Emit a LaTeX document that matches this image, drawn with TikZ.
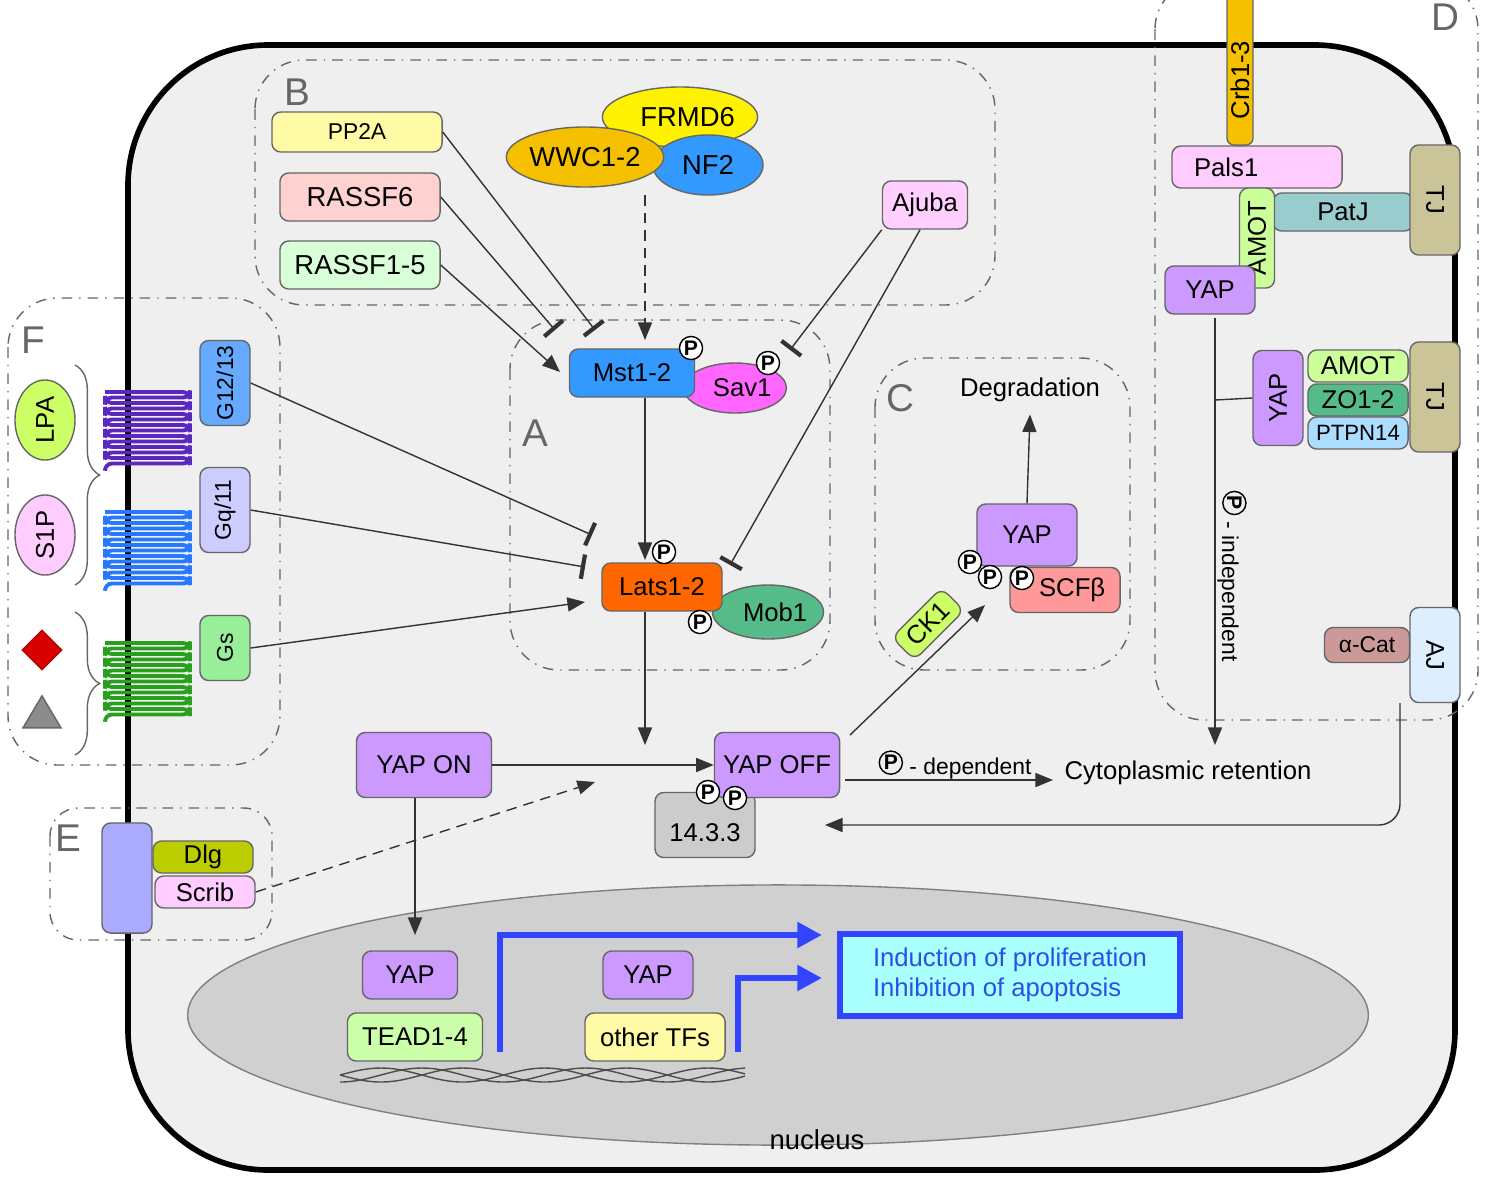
\documentclass[tikz,border=0pt]{standalone}
\usepackage{fontspec}
\setmainfont{Liberation Sans}
\usetikzlibrary{shapes.geometric,arrows.meta,decorations.pathreplacing}
\definecolor{cellg}{HTML}{EFEFEF}
\definecolor{nucg}{HTML}{D0D0D0}
\definecolor{yapc}{HTML}{CC99FF}
\definecolor{tan}{HTML}{CCC499}
\definecolor{bluearr}{HTML}{3344FF}
\definecolor{bluetxt}{HTML}{2A50E6}
\definecolor{cyanbox}{HTML}{AAFFFF}
\definecolor{mblue}{HTML}{3399FF}
\definecolor{gold}{HTML}{F5C000}
\definecolor{pinkl}{HTML}{FFD0FF}
\definecolor{magen}{HTML}{FF66FF}
\definecolor{mobg}{HTML}{55BB88}
\definecolor{orng}{HTML}{FF6600}
\definecolor{lime}{HTML}{CCFF66}
\definecolor{teadg}{HTML}{CCFFAA}
\definecolor{palsc}{HTML}{FFCCFF}
\definecolor{patjc}{HTML}{99CCCC}
\definecolor{amotc}{HTML}{CCFF99}
\definecolor{ptpnc}{HTML}{AADDFF}
\definecolor{acatc}{HTML}{CC9999}
\definecolor{ajc}{HTML}{DDEEFF}
\definecolor{g12c}{HTML}{66AAFF}
\definecolor{gqc}{HTML}{CCCCFF}
\definecolor{gsc}{HTML}{99EE99}
\definecolor{memc}{HTML}{AAAAFF}
\definecolor{dlgc}{HTML}{BBCC00}
\definecolor{coilA}{HTML}{5A28BE}
\definecolor{coilB}{HTML}{2878FF}
\definecolor{coilC}{HTML}{28A01E}
\begin{document}
\begin{tikzpicture}[x=0.01cm,y=-0.01cm,
  every node/.style={font=\fontsize{6.5}{8}\selectfont},
  tx/.style={font=\fontsize{7.3}{8.5}\selectfont},
  tb/.style={font=\fontsize{7.8}{9}\selectfont},
  box/.style={draw=black!60, rounded corners=2.5pt, inner sep=0pt, align=center, tx},
  ell/.style={ellipse, draw=black!60, inner sep=0pt, tx},
  pc/.style={circle, draw=black, fill=white, inner sep=0.3pt, font=\fontsize{6}{6}\selectfont\bfseries},
  grp/.style={draw=black!60, dash dot, rounded corners=14pt},
  lbl/.style={font=\fontsize{11}{12}\selectfont, text=black!60},
  ar/.style={-{Triangle[length=5pt,width=4pt]}, black!80},
  inh/.style={-{Bar[width=7pt,line width=1.2pt]}, black!80},
  coil/.style={line width=1.1pt, rounded corners=2pt}]
\useasboundingbox (0,0) rectangle (1494,1184);
% cell
\draw[line width=1.6pt, fill=cellg, rounded corners=1.4cm] (128,45) rectangle (1455,1170);
\node[ellipse, draw=black!50, fill=nucg, minimum width=11.8cm, minimum height=2.6cm] (nuc) at (778,1015) {};
\node[tb] (nucl) at (817,1140) {nucleus};
% groups
\draw[grp] (255,60) rectangle (995,305); \node[lbl] (lB) at (297,92) {B};
\draw[grp] (510,320) rectangle (830,670); \node[lbl] (lA) at (535,433) {A};
\draw[grp] (875,358) rectangle (1130,670); \node[lbl] (lC) at (900,398) {C};
\draw[grp] (1155,-20) rectangle (1478,720); \node[lbl] (lD) at (1445,17) {D};
\draw[grp] (8,298) rectangle (280,765); \node[lbl] (lF) at (33,340) {F};
\draw[grp,rounded corners=8pt] (50,808) rectangle (272,940); \node[lbl] (lE) at (68,838) {E};
% B
\node[box, fill=yellow!35, minimum width=1.7cm, minimum height=0.4cm, font=\fontsize{6.5}{8}\selectfont] (pp2a) at (357,132) {PP2A};
\node[box, fill=red!18, minimum width=1.6cm, minimum height=0.48cm, tb] (r6) at (360,197) {RASSF6};
\node[box, fill=green!15, minimum width=1.6cm, minimum height=0.48cm, tb] (r15) at (360,265) {RASSF1-5};
\node[ell, fill=yellow, minimum width=1.2cm, minimum height=0.6cm, tb] (frmd) at (680,117) {\ \ FRMD6};
\node[ell, fill=mblue, minimum width=1.1cm, minimum height=0.6cm, tb] (nf2) at (708,165) {NF2};
\node[ell, fill=gold, minimum width=1.36cm, minimum height=0.6cm, tb] (wwc) at (585,157) {WWC1-2};
\node[box, fill=pinkl, minimum width=0.85cm, minimum height=0.48cm] (ajuba) at (925,205) {Ajuba};
% A
\node[ell, fill=magen, minimum width=0.8cm, minimum height=0.5cm] (sav) at (735,388) {\ \ Sav1};
\node[box, fill=mblue, minimum width=1.25cm, minimum height=0.48cm] (mst) at (632,373) {Mst1-2};
\node[pc] (p1) at (691,348) {P};
\node[pc] (p2) at (768,363) {P};
\node[ell, fill=mobg, minimum width=1.1cm, minimum height=0.54cm] (mob) at (768,612) {\ \ Mob1};
\node[box, fill=orng, minimum width=1.2cm, minimum height=0.48cm] (lats) at (662,587) {Lats1-2};
\node[pc] (p3) at (664,552) {P};
\node[pc] (p4) at (700,622) {P};
% YAP ON/OFF
\node[box, fill=black!20, minimum width=1.0cm, minimum height=0.65cm] (b1433) at (705,825) {};
\node[tx] (t1433) at (705,833) {14.3.3};
\node[box, fill=yapc, minimum width=1.35cm, minimum height=0.65cm] (yon) at (424,765) {YAP ON};
\node[box, fill=yapc, minimum width=1.25cm, minimum height=0.65cm] (yoff) at (777,765) {YAP OFF};
\node[pc] (p5) at (708,792) {P};
\node[pc] (p6) at (735,798) {P};
% C
\node[tx] (deg) at (1030,390) {Degradation};
\node[box, fill=red!40, minimum width=1.1cm, minimum height=0.45cm] (scf) at (1065,590) {\ \ SCFβ};
\node[box, fill=yapc, minimum width=1.0cm, minimum height=0.62cm] (yapc) at (1027,535) {YAP};
\node[pc] (p7) at (970,562) {P};
\node[pc] (p8) at (990,577) {P};
\node[pc] (p9) at (1022,578) {P};
\node[box, fill=lime, minimum width=0.7cm, minimum height=0.32cm, rotate=45] (ck1) at (928,624) {CK1};
% nucleus content
\node[box, fill=yapc, minimum width=0.95cm, minimum height=0.48cm] (yn1) at (410,975) {YAP};
\node[box, fill=teadg, minimum width=1.35cm, minimum height=0.48cm] (tead) at (415,1037) {TEAD1-4};
\node[box, fill=yapc, minimum width=0.9cm, minimum height=0.48cm] (yn2) at (648,975) {YAP};
\node[box, fill=yellow!35, minimum width=1.4cm, minimum height=0.48cm] (otf) at (655,1037) {other TFs};
\node[draw=bluearr, line width=1.8pt, fill=cyanbox, minimum width=3.4cm, minimum height=0.82cm, align=left, text=bluetxt, tx] (out) at (1010,975) {Induction of proliferation\\Inhibition of apoptosis};
\foreach \ph in {0,90,180}{
 \draw[black!70, line width=0.4pt, domain=340:745, samples=120] plot (\x, {1075+7*sin((\x-340)*2.2+\ph)});}
\coordinate (bs1) at (500,1052); \coordinate (bs2) at (738,1052);
\coordinate (bt1) at (822,935); \coordinate (bt2) at (822,978);
\draw[bluearr, line width=1.8pt, -{Triangle[length=7pt,width=7pt]}] (bs1) |- (bt1);
\draw[bluearr, line width=1.8pt, -{Triangle[length=7pt,width=7pt]}] (bs2) |- (bt2);
% D
\node[draw=black!60, fill=gold, rounded corners=2pt, minimum width=0.26cm, minimum height=1.6cm, inner sep=0pt] (crb) at (1240,65) {};
\node[rotate=90, tx] (crbt) at (1240,80) {Crb1-3};
\node[box, fill=palsc, minimum width=1.7cm, minimum height=0.42cm, text width=1.6cm, align=left] (pals) at (1257,167) {\ \ Pals1};
\node[box, fill=patjc, minimum width=1.4cm, minimum height=0.38cm] (patj) at (1343,212) {PatJ};
\node[box, fill=tan, minimum width=0.5cm, minimum height=1.1cm] (tj1) at (1435,200) {\rotatebox{-90}{TJ}};
\node[box, fill=amotc, minimum width=0.35cm, minimum height=1.0cm] (amot1) at (1257,238) {\rotatebox{90}{AMOT}};
\node[box, fill=yapc, minimum width=0.9cm, minimum height=0.48cm] (yd1) at (1210,290) {YAP};
\node[box, fill=yapc, minimum width=0.5cm, minimum height=0.95cm] (yd2) at (1278,398) {\rotatebox{90}{YAP}};
\node[box, fill=amotc, minimum width=1.0cm, minimum height=0.32cm] (amot2) at (1358,366) {AMOT};
\node[box, fill=mobg, minimum width=1.0cm, minimum height=0.32cm] (zo) at (1358,400) {ZO1-2};
\node[box, fill=ptpnc, minimum width=1.0cm, minimum height=0.32cm, font=\fontsize{6.3}{7}\selectfont] (ptpn) at (1358,433) {PTPN14};
\node[box, fill=tan, minimum width=0.5cm, minimum height=1.1cm] (tj2) at (1435,397) {\rotatebox{-90}{TJ}};
\node[box, fill=acatc, minimum width=0.85cm, minimum height=0.35cm, font=\fontsize{6.5}{8}\selectfont] (acat) at (1367,645) {α-Cat};
\node[box, fill=ajc, minimum width=0.5cm, minimum height=0.95cm] (aj) at (1435,655) {\rotatebox{-90}{AJ}};
\coordinate (cr) at (1215,745);
\node[tx] (cret) at (1188,773) {Cytoplasmic retention};
\draw[ar] (1215,318) -- (cr);
\coordinate (br) at (1215,400);
\draw[black!80] (br) -- (yd2.west);
\node[rotate=-90,anchor=west, inner sep=0pt] (pindt) at (1232,490) {\tikz\node[circle,draw,inner sep=0.3pt,font=\fontsize{6}{6}\selectfont\bfseries]{P};\ - independent};
\coordinate (ajb) at (1400,703);
\coordinate (r14) at (825,825);
\draw[ar, rounded corners=6pt] (ajb) -- (1400,825) -- (r14);
\coordinate (offe) at (845,780);
\coordinate (cre) at (1053,780);
\draw[ar] (offe) -- (cre);
\node (pdep) at (955,765) {\tikz\node[circle,draw,inner sep=0.3pt,font=\fontsize{6}{6}\selectfont\bfseries]{P};\ - dependent};
% F
\node[box, fill=g12c, minimum width=0.5cm, minimum height=0.85cm, font=\fontsize{6.5}{8}\selectfont] (g12) at (225,383) {\rotatebox{90}{G12/13}};
\node[box, fill=gqc, minimum width=0.5cm, minimum height=0.85cm, font=\fontsize{6.5}{8}\selectfont] (gq) at (225,510) {\rotatebox{90}{Gq/11}};
\node[box, fill=gsc, minimum width=0.5cm, minimum height=0.65cm, font=\fontsize{6.5}{8}\selectfont] (gs) at (225,648) {\rotatebox{90}{Gs}};
\node[ell, fill=lime, minimum width=0.6cm, minimum height=0.8cm] (lpa) at (45,420) {\rotatebox{90}{LPA}};
\node[ell, fill=palsc, minimum width=0.6cm, minimum height=0.8cm] (s1p) at (45,535) {\rotatebox{90}{S1P}};
\node[diamond, draw=red!70!black, fill=red!85!black, minimum size=0.4cm, inner sep=0pt] (dia) at (42,650) {};
\node[isosceles triangle, shape border rotate=90, draw=black!60, fill=black!45, minimum width=0.38cm, minimum height=0.32cm, inner sep=0pt, isosceles triangle stretches] (tri) at (42,717) {};
\draw[black!60, decorate, decoration={brace, amplitude=7pt}] (75,365) -- (75,585);
\draw[black!60, decorate, decoration={brace, amplitude=7pt}] (75,612) -- (75,755);
\foreach \yy/\cc in {392/coilA, 512/coilB, 643/coilC}{
  \draw[coil, color=\cc] (105,\yy) \foreach \k in {0,...,6}{ -- (190,\yy+11*\k) -- (190,\yy+11*\k+5.5) -- (105,\yy+11*\k+5.5) -- (105,\yy+11*\k+11)};
}
% E
\node[box, fill=memc, minimum width=0.5cm, minimum height=1.1cm] (mem) at (127,878) {};
\node[box, fill=dlgc, minimum width=1.0cm, minimum height=0.32cm] (dlg) at (203,857) {Dlg};
\node[box, fill=palsc, minimum width=1.0cm, minimum height=0.32cm] (scrib) at (205,892) {Scrib};
% connectors
\coordinate (ib1) at (595,330); \coordinate (ib2) at (555,330); \coordinate (a1) at (560,372);
\draw[inh] (pp2a.east) -- (ib1);
\draw[inh] (r6.east) -- (ib2);
\draw[ar] (r15.east) -- (a1);
\coordinate (ds) at (645,195); \coordinate (de) at (645,340);
\draw[ar, densely dashed] (ds) -- (de);
\coordinate (ib3) at (790,350); \coordinate (ib4) at (730,565);
\draw[inh] (ajuba.south west) -- (ib3);
\draw[inh] ([xshift=-0.05cm]ajuba.south) -- (ib4);
\coordinate (ml) at (645,560);
\draw[ar] (mst.south -| ml) -- (ml);
\coordinate (ib5) at (592,535); \coordinate (ib6) at (585,567); \coordinate (a2) at (585,602);
\draw[inh] (g12.east) -- (ib5);
\draw[inh] (gq.east) -- (ib6);
\draw[ar] (gs.east) -- (a2);
\coordinate (a3) at (645,745);
\draw[ar] (lats.south -| a3) -- (a3);
\draw[ar] (yon.east) -- (yoff.west);
\coordinate (a6) at (415,935);
\draw[ar] (yon.south -| a6) -- (a6);
\coordinate (a4s) at (850,735); \coordinate (a4) at (985,605);
\draw[ar] (a4s) -- (a4);
\draw[ar] (yapc.north) -- (deg.south);
\coordinate (a5) at (595,782);
\draw[ar, densely dashed] (scrib.east) -- (a5);
\end{tikzpicture}
\end{document}
